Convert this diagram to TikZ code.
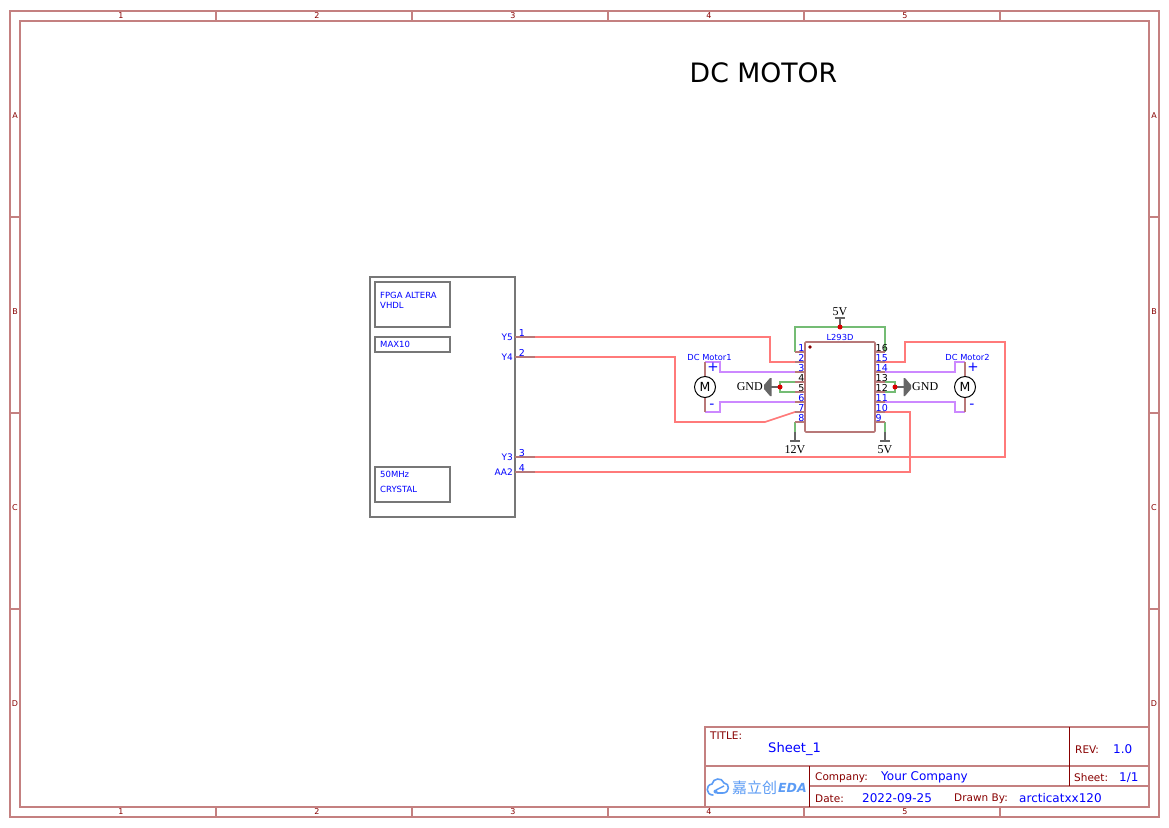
\documentclass[tikz,border=0pt]{standalone}
\usepackage{fontspec}
\setmainfont{DejaVu Sans}
\newfontfamily\gndfont{Liberation Serif}
\newfontfamily\cjkfont{Noto Sans CJK SC}
\definecolor{frameRed}{HTML}{880000}
\definecolor{framePink}{HTML}{C48080}
\definecolor{wireRed}{HTML}{FF7A7A}
\definecolor{wirePurple}{HTML}{CC88FF}
\definecolor{wireGreen}{HTML}{74BC74}
\definecolor{pinBrown}{HTML}{B87878}
\definecolor{pinBlue}{HTML}{0000FF}
\definecolor{partGray}{HTML}{777777}
\definecolor{logoBlue}{HTML}{5C9CF5}
\tikzset{
  x=1pt,y=-1pt,
  framewire/.style={draw=framePink,line width=1.7pt},
  thinframe/.style={draw=frameRed,line width=1pt},
  wirer/.style={draw=wireRed,line width=1.7pt},
  wirep/.style={draw=wirePurple,line width=1.7pt},
  wireg/.style={draw=wireGreen,line width=1.7pt},
  pinwire/.style={draw=pinBrown,line width=1.7pt},
  partbox/.style={draw=partGray,line width=1.7pt},
  symgray/.style={draw=black!60,line width=1.5pt},
  junction/.style={circle,fill=red!85!black,inner sep=0pt,minimum size=5pt},
  ticktext/.style={text=frameRed,font=\fontsize{8}{8}\selectfont,inner sep=0pt},
  tbred/.style={text=frameRed,font=\fontsize{10.5}{11}\selectfont,inner sep=0pt,anchor=west},
  tbblue/.style={text=pinBlue,font=\fontsize{12}{12}\selectfont,inner sep=0pt,anchor=west},
  smallblue/.style={text=pinBlue,font=\fontsize{8.5}{9}\selectfont,inner sep=0pt},
  pinnum/.style={text=pinBlue,font=\fontsize{9.5}{10}\selectfont,inner sep=0pt},
  pinblack/.style={text=black,font=\fontsize{9.5}{10}\selectfont,inner sep=0pt},
  seriflabel/.style={text=black,font=\gndfont\fontsize{12}{12}\selectfont,inner sep=0pt},
  motor/.style={circle,draw=black,line width=1pt,fill=white,minimum size=21pt,inner sep=0pt,font=\fontsize{12.5}{12}\selectfont},
}
\begin{document}
\begin{tikzpicture}
\useasboundingbox (0,0) rectangle (1169,827);
\fill[white] (0,0) rectangle (1169,827);
% sheet frame
\draw[framewire] (10,11) rectangle (1159,817);
\draw[framewire] (20,21) rectangle (1149,807);
\foreach \x in {216,412,608,804,1000} {
  \draw[framewire] (\x,11) -- (\x,21);
  \draw[framewire] (\x,807) -- (\x,817);
}
\foreach \y in {217,413,609} {
  \draw[framewire] (10,\y) -- (20,\y);
  \draw[framewire] (1149,\y) -- (1159,\y);
}
\foreach \x/\t in {121/1,317/2,513/3,709/4,905/5} {
  \node[ticktext] (topt\t) at (\x,16) {\t};
  \node[ticktext] (bott\t) at (\x,812) {\t};
}
\foreach \y/\t in {116/A,312/B,508/C,704/D} {
  \node[ticktext] (lft\t) at (15,\y) {\t};
  \node[ticktext] (rgt\t) at (1154,\y) {\t};
}
% title
\node[inner sep=0pt,font=\fontsize{26.7}{27}\selectfont] (title) at (763.5,73) {DC MOTOR};
% title block
\draw[framewire] (705,727) rectangle (1149,807);
\draw[framewire] (705,766) -- (1149,766);
\draw[framewire] (809,786) -- (1149,786);
\draw[thinframe] (1069,727) -- (1069,786);
\draw[thinframe] (809,766) -- (809,807);
\node[tbred] (tTitle) at (710,736) {TITLE:};
\node[tbblue,font=\fontsize{13.1}{13}\selectfont] (tSheet) at (768,749) {Sheet\_1};
\node[tbred] (tCompany) at (815,777.5) {Company:};
\node[tbblue] (tYour) at (881,777) {Your Company};
\node[tbred] (tDate) at (815,798.5) {Date:};
\node[tbblue] (tDateV) at (862,798.5) {2022-09-25};
\node[tbred] (tDrawn) at (954,798.5) {Drawn By:};
\node[tbblue] (tDrawnV) at (1019,798) {arcticatxx120};
\node[tbred] (tRev) at (1075,749.5) {REV:};
\node[tbblue] (tRevV) at (1113,749) {1.0};
\node[tbred] (tSh) at (1074,778) {Sheet:};
\node[tbblue] (tShV) at (1119,778) {1/1};
% logo
\draw[logoBlue,line width=1.6pt,line cap=round,line join=round]
  (713,795) .. controls (706,795) and (705,785) .. (712,784)
  .. controls (713,778) and (722,777) .. (724,783)
  .. controls (730,783) and (730,793) .. (723,793) -- (717,793);
\draw[logoBlue,line width=1.4pt] (716,790) -- (724,786);
\fill[logoBlue] (715.5,791.5) circle (2pt);
\node[inner sep=0pt,anchor=west,text=logoBlue,font=\cjkfont\fontsize{15}{15}\selectfont] (logoCn) at (732,787.5) {嘉立创};
\node[inner sep=0pt,anchor=west,text=logoBlue,font=\bfseries\itshape\fontsize{12.5}{13}\selectfont] (logoEn) at (778,787.5) {EDA};
% FPGA block
\draw[partbox] (370,277) rectangle (515,517);
\draw[partbox] (375,282) rectangle (450,327);
\draw[partbox] (375,337) rectangle (450,352);
\draw[partbox] (375,467) rectangle (450,502);
\node[smallblue,anchor=west] (tFpga) at (380,295) {FPGA ALTERA};
\node[smallblue,anchor=west] (tVhdl) at (380,305) {VHDL};
\node[smallblue,anchor=west] (tMax) at (380,344.5) {MAX10};
\node[smallblue,anchor=west] (tMhz) at (380,474.5) {50MHz};
\node[smallblue,anchor=west] (tCry) at (380,489.5) {CRYSTAL};
% named points
\foreach \n/\y in {Y5/337,Y4/357,Y3/457,AA2/472} {
  \coordinate (in\n) at (515,\y);
  \coordinate (out\n) at (535,\y);
}
% L293D
\foreach \n/\y in {1/352,2/362,3/372,4/382,5/392,6/402,7/412,8/422} {
  \coordinate (L\n) at (795,\y);
  \coordinate (LI\n) at (805,\y);
}
\foreach \n/\y in {16/352,15/362,14/372,13/382,12/392,11/402,10/412,9/422} {
  \coordinate (R\n) at (885,\y);
  \coordinate (RI\n) at (875,\y);
}
% wires
\draw[wirer] (outY5) -| (770,362) -- (L2);
\draw[wirer] (outY4) -| (675,422) -- (765,422) -- (L7);
\draw[wirer] (R15) -| (905,342) -| (1005,457) -- (outY3);
\draw[wirer] (R10) -| (910,472) -- (outAA2);
\foreach \n/\y in {Y5/337,Y4/357,Y3/457,AA2/472} {
  \draw[pinwire] (in\n) -- (out\n);
  \node[smallblue,anchor=east,font=\fontsize{9}{9}\selectfont] (lab\n) at (513,\y) {\n};
}
\foreach \n/\y in {1/333,2/353,3/453,4/468} {
  \node[pinnum] (fp\n) at (522,\y) {\n};
}
% power rails
\coordinate (jTop) at (840,327);
\coordinate (jGndL) at (780,387);
\coordinate (jGndR) at (895,387);
\coordinate (g12) at (795,432);
\coordinate (g5) at (885,432);
\draw[wireg] (L1) -- (795,327) -- (jTop) -- (885,327) -- (R16);
\draw[wireg] (L4) -- (780,382) -- (780,392) -- (L5);
\draw[wireg] (R13) -- (895,382) -- (895,392) -- (R12);
\draw[wireg] (L8) -- (g12);
\draw[wireg] (R9) -- (g5);
% motors
\node[motor] (M1) at (705,387) {M};
\node[motor] (M2) at (965,387) {M};
\draw[wirep] (L3) -- (720,372) -- (720,362) -- (705,362);
\draw[wirep] (L6) -- (720,402) -- (720,412) -- (705,412);
\draw[wirep] (R14) -- (955,372) -- (955,362) -- (965,362);
\draw[wirep] (R11) -- (955,402) -- (955,412) -- (965,412);
\draw[pinwire] (M1.north) -- (705,362);
\draw[pinwire] (M1.south) -- (705,412);
\draw[pinwire] (M2.north) -- (965,362);
\draw[pinwire] (M2.south) -- (965,412);
\node[smallblue,font=\fontsize{8.3}{9}\selectfont] (dc1) at (709.5,357) {DC Motor1};
\node[smallblue,font=\fontsize{8.3}{9}\selectfont] (dc2) at (967.5,357) {DC Motor2};
\node[pinnum,font=\fontsize{13.5}{13}\selectfont] (p1) at (713,367) {+};
\node[pinnum,font=\fontsize{14}{13}\selectfont] (m1) at (712,406) {-};
\node[pinnum,font=\fontsize{13.5}{13}\selectfont] (p2) at (973,367) {+};
\node[pinnum,font=\fontsize{14}{13}\selectfont] (m2) at (972,406) {-};
% chip body and pins
\draw[pinwire,rounded corners=1pt] (805,342) rectangle (875,432);
\foreach \n in {1,...,8} { \draw[pinwire] (L\n) -- (LI\n); }
\foreach \n in {9,...,16} { \draw[pinwire] (R\n) -- (RI\n); }
\fill[frameRed] (810,347) circle (1.8pt);
\node[smallblue,font=\fontsize{8.3}{9}\selectfont] (chip) at (840,337) {L293D};
\foreach \n/\y in {1/348,2/358,3/368,6/398,7/408,8/418} {
  \node[pinnum,anchor=east] (ln\n) at (804.5,\y) {\n};
}
\foreach \n/\y in {4/378,5/388} {
  \node[pinblack,anchor=east] (ln\n) at (804.5,\y) {\n};
}
\foreach \n/\y in {15/358,14/368,11/398,10/408,9/418} {
  \node[pinnum,anchor=west] (rn\n) at (875.5,\y) {\n};
}
\foreach \n/\y in {16/348,13/378,12/388} {
  \node[pinblack,anchor=west] (rn\n) at (875.5,\y) {\n};
}
% power symbols
\coordinate (top5) at (840,318);
\coordinate (b12) at (795,441);
\coordinate (b5) at (885,441);
\draw[symgray] (jTop) -- (top5);
\draw[symgray] (835,318) -- (845,318);
\draw[symgray] (g12) -- (b12);
\draw[symgray] (790,441) -- (800,441);
\draw[symgray] (g5) -- (b5);
\draw[symgray] (880,441) -- (890,441);
\node[seriflabel] (v5t) at (840,312) {5V};
\node[seriflabel] (v12) at (795,449.5) {12V};
\node[seriflabel] (v5b) at (885,449.5) {5V};
% ground symbols
\coordinate (gl) at (771,387);
\coordinate (gr) at (904,387);
\draw[symgray] (jGndL) -- (gl);
\draw[symgray] (jGndR) -- (gr);
\fill[black!60] (771.5,378) -- (771.5,396) -- (770,396) -- (764,389) -- (764,385) -- (770,378) -- cycle;
\fill[black!60] (903.5,378) -- (903.5,396) -- (905,396) -- (911,389) -- (911,385) -- (905,378) -- cycle;
\node[seriflabel,anchor=east] (gndL) at (763,387) {GND};
\node[seriflabel,anchor=west] (gndR) at (912,387) {GND};
\node[junction] (jA) at (jTop) {};
\node[junction] (jB) at (jGndL) {};
\node[junction] (jC) at (jGndR) {};
\end{tikzpicture}
\end{document}
